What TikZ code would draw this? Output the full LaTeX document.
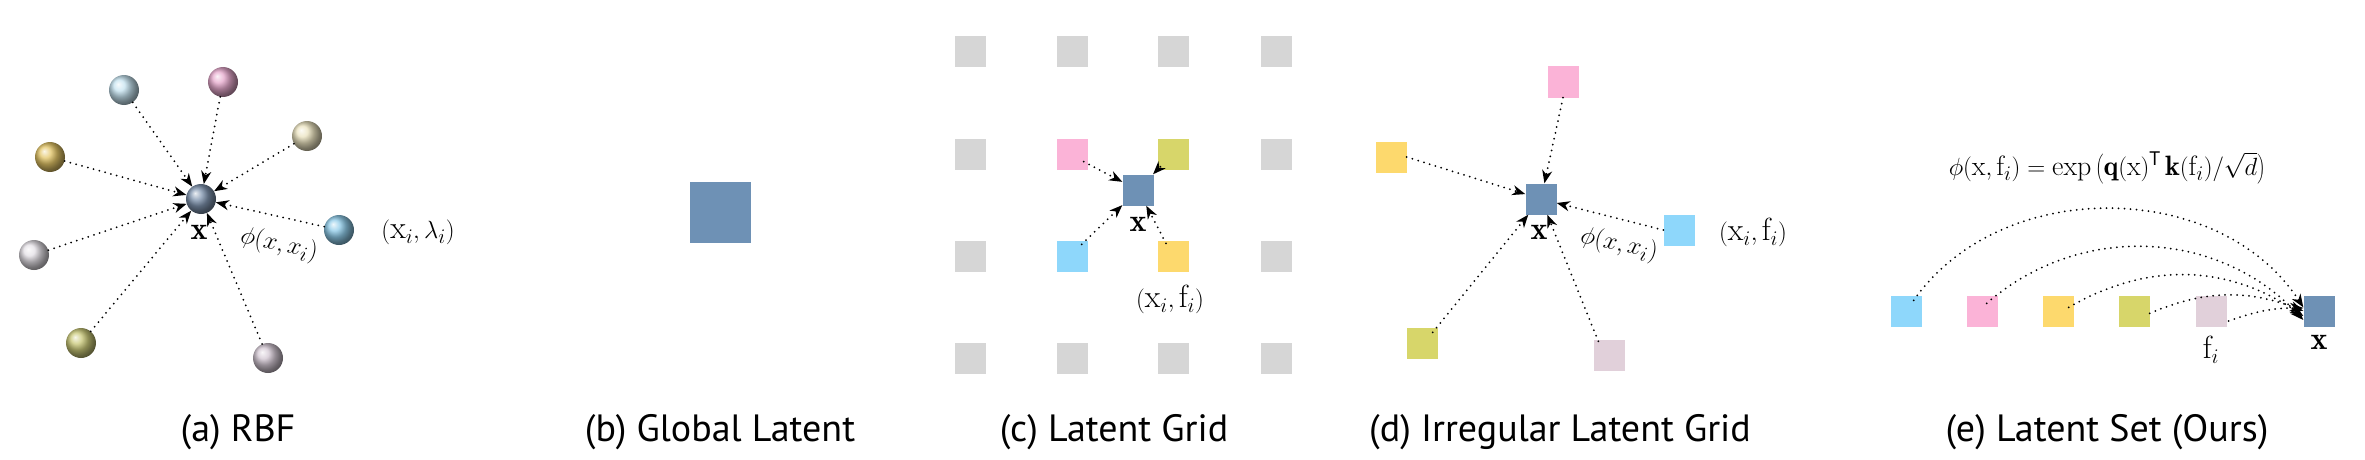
\documentclass[tikz,border=0pt]{standalone}
\usepackage{fontspec}
\setsansfont{PT Sans}
\usetikzlibrary{arrows.meta,shapes.geometric}

\definecolor{xblue}{HTML}{6E91B5}
\definecolor{fpink}{HTML}{FBB3D7}
\definecolor{folive}{HTML}{D7D66A}
\definecolor{fyellow}{HTML}{FDD96D}
\definecolor{fsky}{HTML}{8ED7FB}
\definecolor{fmauve}{HTML}{E1D0DA}
\definecolor{fgrey}{HTML}{D6D6D6}
\definecolor{bcentre}{HTML}{7E93AE}
\definecolor{bsky}{HTML}{C5E3F0}
\definecolor{bpink}{HTML}{E6A8CC}
\definecolor{btan}{HTML}{EAE2BE}
\definecolor{bgold}{HTML}{E3C566}
\definecolor{bwhite}{HTML}{E4E0E6}
\definecolor{bolive}{HTML}{C9C877}
\definecolor{bmauve}{HTML}{D2C6D2}
\definecolor{bblue}{HTML}{8DCAE8}

\tikzset{
  ball/.style={circle, minimum size=30pt, inner sep=0pt, shading=ball, ball color=#1},
  cell/.style={rectangle, minimum size=31pt, inner sep=0pt, fill=#1},
  link/.style={line width=2pt, line cap=round, dash pattern=on 0pt off 6pt, -{Stealth[length=13pt,width=10pt,inset=4pt]}},
  lbl/.style={font=\fontsize{32}{36}\selectfont, inner sep=0pt},
  caption/.style={font=\sffamily\fontsize{38}{44}\selectfont}
}

\begin{document}
\begin{tikzpicture}[x=1pt,y=-1pt]
\useasboundingbox (0,0) rectangle (2365,460);

% (a) RBF
\node[ball=bcentre] (ax) at (201,199) {};
\node[ball=bsky] (a1) at (124,90) {};
\node[ball=bpink] (a2) at (223,82) {};
\node[ball=btan] (a3) at (307,136) {};
\node[ball=bgold] (a4) at (50,157) {};
\node[ball=bwhite] (a5) at (34,255) {};
\node[ball=bolive] (a6) at (81,343) {};
\node[ball=bmauve] (a7) at (268,358) {};
\node[ball=bblue] (a8) at (339,230) {};
\foreach \s in {a1,a2,a3,a4,a5,a6,a7,a8}
  \draw[link] (\s) -- (ax);
\node[lbl] (axl) at (199,232) {$\mathbf{x}$};
\node[lbl, rotate=-12] (aphi) at (279,245) {$\phi(x,x_i)$};
\node[lbl] (a8l) at (418,232) {$(\mathrm{x}_i,\lambda_i)$};
\node[caption] (capa) at (238,432) {(a) RBF};

% (b) Global Latent
\node[cell=xblue, minimum size=61pt] (bx) at (720,212) {};
\node[caption] (capb) at (720,432) {(b) Global Latent};

% (c) Latent Grid
\foreach \i/\cx in {1/970,2/1072,3/1173,4/1276}
  \foreach \j/\cy in {1/52,2/154,3/256,4/358}
    \node[cell=fgrey] (g\i\j) at (\cx,\cy) {};
\node[cell=fpink] (cp) at (1072,154) {};
\node[cell=folive] (co) at (1173,154) {};
\node[cell=fsky] (cb) at (1072,256) {};
\node[cell=fyellow] (cy) at (1173,256) {};
\node[cell=xblue] (cx) at (1138,190) {};
\draw[link] ([shift={(-4,-8)}]cp.south east) -- (cx);
\draw[link] ([shift={(3,-3)}]co.south west) -- (cx);
\draw[link] ([shift={(-6,4)}]cb.north east) -- (cx);
\draw[link] ([shift={(-7,3)}]cy.north) -- (cx);
\node[lbl] (cxl) at (1138,224) {$\mathbf{x}$};
\node[lbl] (cyl) at (1170,299) {$(\mathrm{x}_i,\mathrm{f}_i)$};
\node[caption] (capc) at (1114,432) {(c) Latent Grid};

% (d) Irregular Latent Grid
\node[cell=xblue] (dx) at (1541,199) {};
\node[cell=fpink] (dp) at (1563,82) {};
\node[cell=fyellow] (dy) at (1391,157) {};
\node[cell=fsky] (db) at (1679,230) {};
\node[cell=folive] (do) at (1422,343) {};
\node[cell=fmauve] (dm) at (1609,355) {};
\draw[link] (dp.south) -- (dx);
\draw[link] (dy.east) -- (dx);
\draw[link] (db.west) -- (dx);
\draw[link] ([shift={(-5,5)}]do.north east) -- (dx);
\draw[link] ([shift={(5,2)}]dm.north west) -- (dx);
\node[lbl] (dxl) at (1539,232) {$\mathbf{x}$};
\node[lbl, rotate=-12] (dphi) at (1619,245) {$\phi(x,x_i)$};
\node[lbl] (dbl) at (1753,232) {$(\mathrm{x}_i,\mathrm{f}_i)$};
\node[caption] (capd) at (1560,432) {(d) Irregular Latent Grid};

% (e) Latent Set (Ours)
\foreach \k/\c/\ex in {1/fsky/1906,2/fpink/1982,3/fyellow/2058,4/folive/2134,5/fmauve/2211}
  \node[cell=\c] (e\k) at (\ex,311) {};
\node[cell=xblue] (ex) at (2319,311) {};
\draw[link] ([shift={(-8,5)}]e1.north east) to[bend left=56] ([yshift=-12]ex.north west);
\draw[link] ([shift={(-11,8)}]e2.north east) to[bend left=44] ([yshift=-9]ex.west);
\draw[link] ([shift={(-5,12)}]e3.north east) to[bend left=32] ([yshift=-5]ex.west);
\draw[link] ([shift={(0,18)}]e4.north east) to[bend left=22] (ex.west);
\draw[link] ([shift={(2,10)}]e5.east) to[bend left=10] ([yshift=3]ex.west);
\node[lbl] (efl) at (2211,350) {$\mathrm{f}_i$};
\node[lbl] (exl) at (2319,342) {$\mathbf{x}$};
\node[lbl, font=\fontsize{28}{32}\selectfont] (eq) at (2107,168)
  {$\phi(\mathrm{x},\mathrm{f}_i) = \exp\left(\mathbf{q}(\mathrm{x})^{\mathsf{T}}\,\mathbf{k}(\mathrm{f}_i)/\sqrt{d}\right)$};
\node[caption] (cape) at (2107,432) {(e) Latent Set (Ours)};
\end{tikzpicture}
\end{document}
